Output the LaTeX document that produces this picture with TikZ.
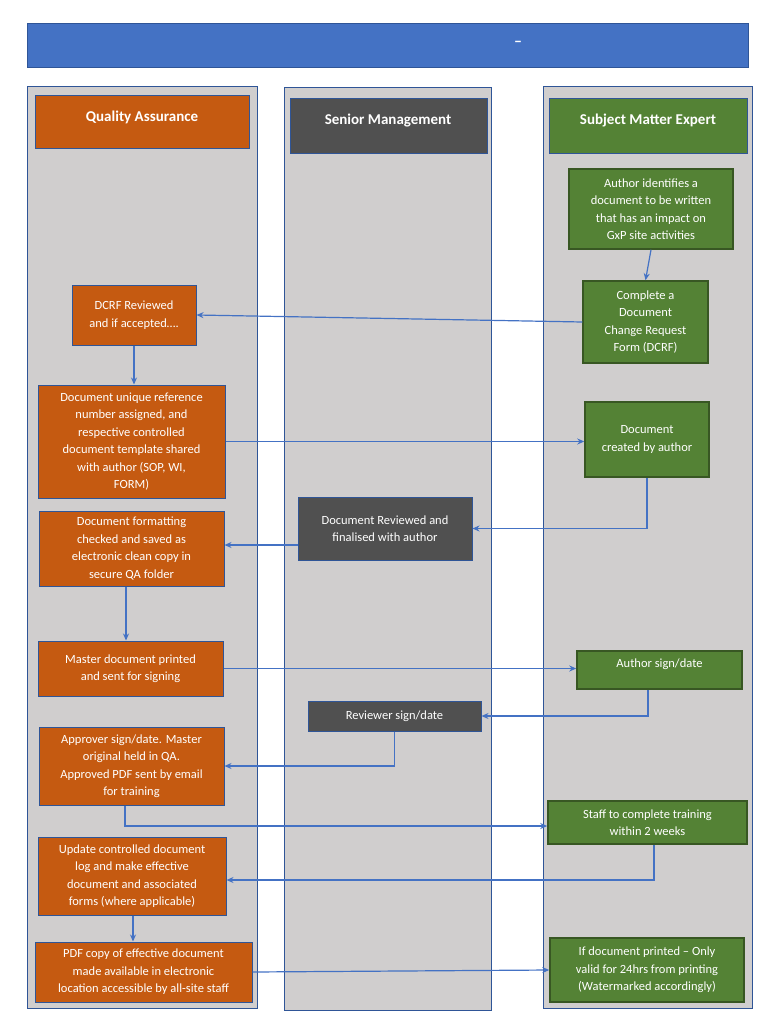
\documentclass[tikz,border=0pt]{standalone}
\usepackage{fontspec}
\setmainfont{Carlito}
\usetikzlibrary{arrows.meta}
\definecolor{bluebar}{HTML}{4472C4}
\definecolor{laneb}{HTML}{2F5597}
\definecolor{lanef}{HTML}{D0CECE}
\definecolor{qa}{HTML}{C55A11}
\definecolor{sm}{HTML}{505050}
\definecolor{sme}{HTML}{548235}
\definecolor{smeb}{HTML}{385723}
\begin{document}
\begin{tikzpicture}[x=1pt,y=-1pt,
  lane/.style={draw=laneb,fill=lanef,line width=1pt},
  box/.style={text=white,align=center,font=\fontsize{12.5}{17.5}\selectfont,line width=1pt,inner sep=0pt},
  qab/.style={box,fill=qa,draw=laneb},
  smb/.style={box,fill=sm,draw=laneb},
  seb/.style={box,fill=sme,draw=smeb,line width=1.5pt},
  hd/.style={font=\fontsize{15}{18}\selectfont\bfseries,text=white},
  arr/.style={draw=bluebar,line width=1.2pt,-{Stealth[length=7pt,width=6pt]}}]
\useasboundingbox (0,0) rectangle (768,1024);
\fill[bluebar,draw=laneb] (27,23) rectangle (748,67);
\node[text=white,font=\fontsize{16}{18}\selectfont\bfseries] (title) at (518,44) {–};
\draw[lane] (27,87) rectangle (257,1008);
\draw[lane] (284,88) rectangle (491,1010);
\draw[lane] (543,87) rectangle (752,1008);
\draw[fill=qa,draw=laneb] (35,95) rectangle (249,148);
\node[hd] (h1) at (142,117) {Quality Assurance};
\draw[fill=sm,draw=laneb] (290,98) rectangle (487,153);
\node[hd] (h2) at (388,121) {Senior Management};
\draw[fill=sme,draw=laneb] (549,98) rectangle (747,153);
\node[hd] (h3) at (648,121) {Subject Matter Expert};
% boxes
\newcommand{\bx}[5]{\path[#1] (#2) rectangle (#3); \node[#1,draw=none,fill=none] (#4) at ($(#2)!0.5!(#3)$) {#5};}
\node[seb,minimum width=164,minimum height=80] (a1) at (651,209) {Author identifies a\\document to be written\\that has an impact on\\GxP site activities};
\node[seb,minimum width=125,minimum height=82] (a2) at (645.5,322) {Complete a\\Document\\Change Request\\Form (DCRF)};
\node[qab,minimum width=124,minimum height=60] (q1) at (134,315) {DCRF Reviewed\\and if accepted….};
\node[qab,minimum width=187,minimum height=113] (q2) at (131.5,441.5) {Document unique reference\\number assigned, and\\respective controlled\\document template shared\\with author (SOP, WI,\\FORM)};
\node[seb,minimum width=124,minimum height=75] (a3) at (647,439.5) {Document\\created by author};
\node[smb,minimum width=174,minimum height=63] (s1) at (385,528.5) {Document Reviewed and\\finalised with author};
\node[qab,minimum width=185,minimum height=75] (q3) at (131.5,548.5) {Document formatting\\checked and saved as\\electronic clean copy in\\secure QA folder};
\node[qab,minimum width=185,minimum height=55] (q4) at (130.5,668.5) {Master document printed\\and sent for signing};
\node[seb,minimum width=165,minimum height=38,text depth=18pt-\baselineskip] (a4) at (659.5,670) {};
\node[text=white,font=\fontsize{12.5}{15}\selectfont] (a4t) at (659.5,664) {Author sign/date};
\node[smb,minimum width=173,minimum height=30] (s2) at (394.5,716) {Reviewer sign/date};
\node[qab,minimum width=185,minimum height=78] (q5) at (131.5,766) {Approver sign/date. Master\\original held in QA.\\Approved PDF sent by email\\for training};
\node[seb,minimum width=199,minimum height=43] (a5) at (647.5,822.5) {Staff to complete training\\within 2 weeks};
\node[qab,minimum width=188,minimum height=78] (q6) at (132,876) {Update controlled document\\log and make effective\\document and associated\\forms (where applicable)};
\node[qab,minimum width=217,minimum height=60] (q7) at (143.5,972) {PDF copy of effective document\\made available in electronic\\location accessible by all-site staff};
\node[seb,minimum width=194,minimum height=64] (a6) at (647,970) {If document printed – Only\\valid for 24hrs from printing\\(Watermarked accordingly)};
% arrows
\draw[arr] (a1.south) -- (a2.north);
\draw[arr] (a2.west) -- (q1.east);
\draw[arr] (q1.south) -- (q1.south |- q2.north);
\draw[arr] (q2.east) -- (a3.west |- q2.east);
\draw[arr] (a3.south) |- (s1.east);
\draw[arr] (s1.west |- 0,545) -- (q3.east |- 0,545);
\draw[arr] (q3.south -| 126,0) -- (q4.north -| 126,0);
\draw[arr] (q4.east) -- (a4.west |- q4.east);
\draw[arr] (a4.south -| 648,0) |- (s2.east);
\draw[arr] (s2.south) |- (q5.east);
\draw[arr] (q5.south -| 125,0) |- (a5.west |- 0,826);
\draw[arr] (a5.south -| 654,0) |- (q6.east |- 0,880);
\draw[arr] (q6.south -| 133,0) -- (q7.north -| 133,0);
\draw[arr] (q7.east) -- (a6.west);
\end{tikzpicture}
\end{document}
